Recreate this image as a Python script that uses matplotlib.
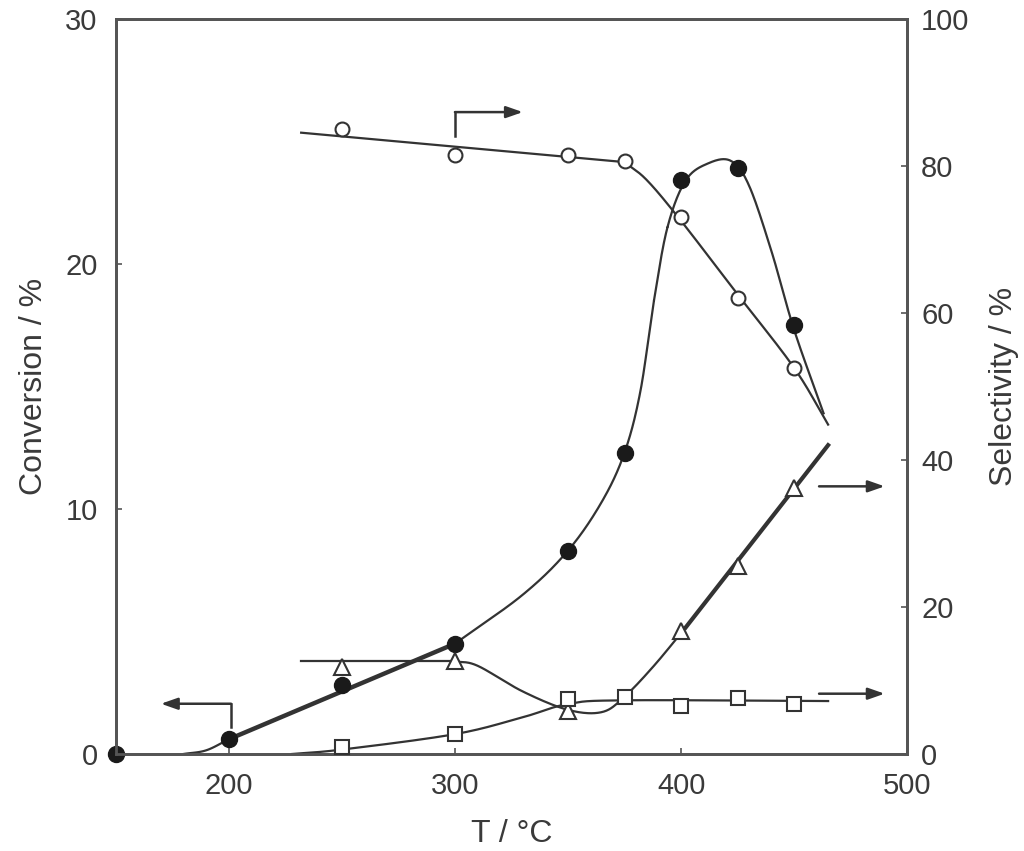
import numpy as np
import matplotlib.pyplot as plt

plt.rcParams['font.family'] = ['Liberation Sans', 'DejaVu Sans']

# measured points
T_conv = [150, 200, 250, 300, 350, 375, 400, 425, 450]
conversion = [0.0, 0.6, 2.8, 4.5, 8.3, 12.3, 23.4, 23.9, 17.5]

T_sel = [250, 300, 350, 375, 400, 425, 450]
sel_circle = [85.0, 81.5, 81.5, 80.6, 73.0, 62.0, 52.5]
sel_square = [1.0, 2.7, 7.5, 7.7, 6.5, 7.6, 6.8]
T_tri = [250, 300, 350, 400, 425, 450]
sel_triangle = [11.8, 12.6, 5.8, 16.7, 25.5, 36.2]

# hand-drawn guide curves
conv_fit_T = [180, 190, 200]
conv_fit_y = [0.0, 0.15, 0.6]
conv_line_T = [200, 300]
conv_line_y = [0.6, 4.5]
conv_curve_T = [300, 330, 350, 365, 375, 382, 388, 394, 402, 412, 422, 430, 440, 450, 463]
conv_curve_y = [4.5, 6.5, 8.3, 10.3, 12.3, 14.8, 18.5, 21.5, 23.4, 24.1, 24.2, 23.2, 20.5, 17.3, 13.9]

circ_fit_T = [232, 375, 385, 400, 425, 450, 465]
circ_fit_y = [84.5, 80.5, 78.0, 72.5, 62.5, 52.5, 44.8]

tri_flat_T = [232, 300]
tri_flat_y = [12.6, 12.6]
tri_curve_T = [300, 310, 330, 350, 365, 375, 388, 402]
tri_curve_y = [12.6, 12.0, 8.5, 6.0, 5.7, 7.8, 12.0, 17.2]
tri_line_T = [402, 465]
tri_line_y = [17.2, 42.0]

sq_fit_T = [228, 250, 300, 330, 350, 375, 465]
sq_fit_y = [0.0, 0.6, 2.7, 5.0, 6.8, 7.3, 7.2]


def smooth(xs, ys, n=30):
    # catmull-rom through the guide points
    p = np.column_stack([xs, ys]).astype(float)
    p = np.vstack([2 * p[0] - p[1], p, 2 * p[-1] - p[-2]])
    out = []
    t = np.linspace(0, 1, n)[:, None]
    for i in range(1, len(p) - 2):
        p0, p1, p2, p3 = p[i - 1], p[i], p[i + 1], p[i + 2]
        seg = 0.5 * ((2 * p1) + (-p0 + p2) * t + (2 * p0 - 5 * p1 + 4 * p2 - p3) * t ** 2
                     + (-p0 + 3 * p1 - 3 * p2 + p3) * t ** 3)
        out.append(seg)
    out = np.vstack(out)
    return out[:, 0], out[:, 1]


col = '#333333'
fig = plt.figure(figsize=(10.24, 8.51), dpi=100)
ax = fig.add_axes([0.113, 0.114, 0.773, 0.864])
ax2 = ax.twinx()

ax.set_xlim(150, 500)
ax.set_ylim(0, 30)
ax2.set_ylim(0, 100)

lw = 1.6
# conversion
x, y = smooth(conv_fit_T, conv_fit_y)
ax.plot(x, y, color=col, lw=lw)
ax.plot(conv_line_T, conv_line_y, color=col, lw=3.2)
x, y = smooth(conv_curve_T, conv_curve_y)
ax.plot(x, y, color=col, lw=lw)
ax.plot(T_conv, conversion, 'o', ms=11.5, color='#1a1a1a', clip_on=False, zorder=5)

# selectivity circles
ax2.plot(circ_fit_T[:2], circ_fit_y[:2], color=col, lw=lw)
x, y = smooth(circ_fit_T[1:], circ_fit_y[1:])
ax2.plot(x, y, color=col, lw=lw)
ax2.plot(T_sel, sel_circle, 'o', ms=10, mfc='white', mec=col, mew=1.5, zorder=5)

# triangles
ax2.plot(tri_flat_T, tri_flat_y, color=col, lw=lw)
x, y = smooth(tri_curve_T, tri_curve_y)
ax2.plot(x, y, color=col, lw=lw)
ax2.plot(tri_line_T, tri_line_y, color=col, lw=3.0)
ax2.plot(T_tri, sel_triangle, '^', ms=11, mfc='white', mec=col, mew=1.5, zorder=5)

# squares
x, y = smooth(sq_fit_T, sq_fit_y)
ax2.plot(x, y, color=col, lw=lw)
ax2.plot(T_sel, sel_square, 's', ms=10, mfc='white', mec=col, mew=1.5, zorder=5)

# arrows showing which axis
arw = dict(arrowstyle='-|>,head_length=1.0,head_width=0.35', color=col, lw=1.8, shrinkA=0, shrinkB=0)
ax.plot([201, 201], [1.1, 2.05], color=col, lw=1.8)
ax.annotate('', xy=(170, 2.05), xytext=(201, 2.05), arrowprops=arw)
ax2.plot([300, 300], [84.0, 87.3], color=col, lw=1.8)
ax2.annotate('', xy=(330, 87.3), xytext=(300, 87.3), arrowprops=arw)
ax2.annotate('', xy=(490, 36.4), xytext=(461, 36.4), arrowprops=arw)
ax2.annotate('', xy=(490, 8.2), xytext=(461, 8.2), arrowprops=arw)

ax.set_xticks([200, 300, 400, 500])
ax.set_yticks([0, 10, 20, 30])
ax2.set_yticks([0, 20, 40, 60, 80, 100])
for a in (ax, ax2):
    a.tick_params(direction='in', length=4, width=1.2, colors='#555555',
                  labelsize=21, labelcolor='#3a3a3a', pad=10)
    for s in a.spines.values():
        s.set_color('#555555')
        s.set_linewidth(2)
ax.tick_params(axis='y', pad=13)
ax.tick_params(axis='x', pad=13)

ax.set_xlabel('T / °C', fontsize=23, color='#3a3a3a', labelpad=14)
ax.set_ylabel('Conversion / %', fontsize=23, color='#3a3a3a', labelpad=12)
ax2.set_ylabel('Selectivity / %', fontsize=23, color='#3a3a3a', labelpad=14)

fig.savefig('out.png', dpi=100)
